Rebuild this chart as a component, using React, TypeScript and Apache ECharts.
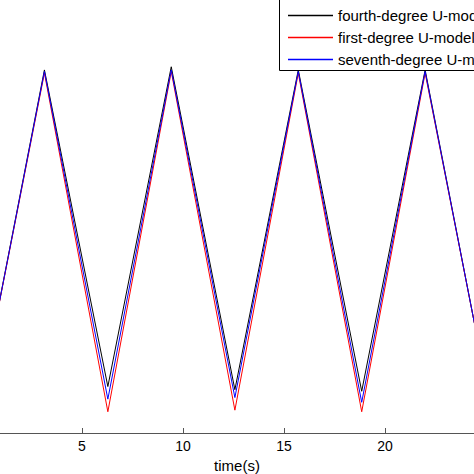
import React, { useEffect, useRef } from "react";
import * as echarts from "echarts";

// Vertices of the three responses: [time (s), value]
const fourthDegree: [number, number][] = [
  [0.0, -1.07], [3.14, 1.0], [6.28, -1.01], [9.42, 1.02], [12.57, -1.03],
  [15.71, 1.0], [18.85, -1.04], [21.99, 1.0], [24.45, -0.62],
];
const firstDegree: [number, number][] = [
  [0.0, -1.07], [3.14, 0.98], [6.28, -1.17], [9.42, 0.99], [12.57, -1.16],
  [15.71, 0.98], [18.85, -1.17], [21.99, 0.98], [24.45, -0.62],
];
const seventhDegree: [number, number][] = [
  [0.0, -1.07], [3.14, 0.99], [6.28, -1.09], [9.42, 1.0], [12.57, -1.08],
  [15.71, 0.99], [18.85, -1.11], [21.99, 0.99], [24.45, -0.62],
];
const seriesNames = ["fourth-degree U-model", "first-degree U-model", "seventh-degree U-model"];
const seriesColors = ["#000000", "#ff0000", "#0000ff"];
const xTicks = [5, 10, 15, 20];

export default function App() {
  const ref = useRef<HTMLDivElement>(null);
  useEffect(() => {
    if (!ref.current) return;
    const chart = echarts.init(ref.current, undefined, { renderer: "svg" });
    const datas = [fourthDegree, firstDegree, seventhDegree];
    chart.setOption({
      animation: false,
      backgroundColor: "#ffffff",
      textStyle: { fontFamily: "Liberation Sans, Arial, sans-serif" },
      grid: { left: 0, right: 0, top: 0, bottom: 41, containLabel: false, outerBoundsMode: "none" },
      xAxis: {
        type: "value",
        min: 0.94,
        max: 24.41,
        name: "time(s)",
        nameLocation: "middle",
        nameGap: 25,
        nameTextStyle: { fontSize: 15, color: "#000" },
        axisLine: { show: true, onZero: false, lineStyle: { color: "#555", width: 1 } },
        axisTick: { show: true, inside: true, length: 5, customValues: xTicks, lineStyle: { color: "#555" } },
        axisLabel: { customValues: xTicks, fontSize: 14, color: "#000", margin: 6 },
        splitLine: { show: false },
      },
      yAxis: {
        type: "value",
        min: -1.305,
        max: 1.444,
        show: false,
        splitLine: { show: false },
      },
      legend: {
        orient: "vertical",
        left: 288,
        top: 8,
        padding: 0,
        itemWidth: 45,
        itemHeight: 1.5,
        itemGap: 7,
        icon: "rect",
        z: 20,
        textStyle: { fontSize: 15, color: "#000", lineHeight: 15 },
        data: seriesNames,
      },
      graphic: [
        {
          type: "rect",
          z: 10,
          shape: { x: 279.5, y: -10, width: 260, height: 80.5 },
          style: { fill: "#ffffff", stroke: "#000", lineWidth: 1 },
        },
      ],
      series: datas.map((d, i) => ({
        name: seriesNames[i],
        type: "line",
        data: d,
        symbol: "none",
        clip: true,
        z: 2 + i,
        lineStyle: { color: seriesColors[i], width: 1 },
        itemStyle: { color: seriesColors[i] },
      })),
    });
    return () => chart.dispose();
  }, []);
  return (
    <div
      ref={ref}
      style={{ position: "fixed", left: 0, top: 0, width: 474, height: 474 }}
    />
  );
}
